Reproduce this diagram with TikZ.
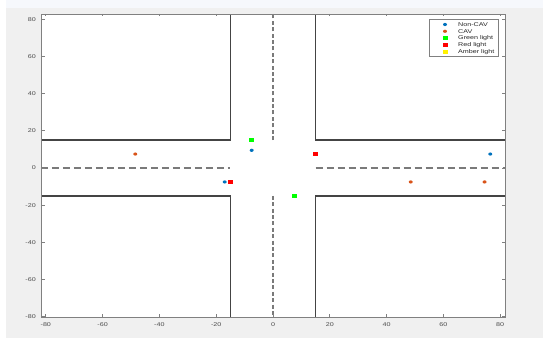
\documentclass[tikz,border=0pt]{standalone}
\usepackage{fontspec}
\usetikzlibrary{shapes.geometric}
\setmainfont{Liberation Sans}
\newfontfamily\axfont[FakeStretch=1.3]{Liberation Sans}
\definecolor{mblue}{HTML}{0072BD}
\definecolor{morange}{HTML}{D95319}
\definecolor{figgray}{HTML}{F0F0F0}
\definecolor{topstrip}{HTML}{F6F8FC}
\definecolor{axgray}{HTML}{808080}
\definecolor{roadc}{HTML}{444444}
\definecolor{dashc}{HTML}{7A7A7A}
\begin{document}
\begin{tikzpicture}[x=1pt,y=-1pt,
  road/.style={draw=roadc,line width=1.6pt},
  hdash/.style={draw=dashc,line width=1.2pt,dash pattern=on 7pt off 4pt},
  vdash/.style={draw=dashc,line width=1.5pt,dash pattern=on 4pt off 2.4pt},
  axisline/.style={draw=axgray,line width=0.8pt},
  ticklab/.style={font=\axfont\fontsize{5.5}{6.5}\selectfont,text=black!70,inner sep=0pt},
  leglab/.style={font=\axfont\fontsize{5.5}{6.5}\selectfont,text=black!85,inner sep=0pt,anchor=west},
  dotm/.style={ellipse,minimum width=4pt,minimum height=3.2pt,inner sep=0pt,draw=none},
  sqm/.style={rectangle,minimum width=5pt,minimum height=3.8pt,inner sep=0pt,draw=none}]
\useasboundingbox (0,0) rectangle (550,345);
\fill[white] (0,0) rectangle (550,345);
\fill[topstrip] (6,0) rectangle (543,8);
\fill[figgray] (6,8) rectangle (543,338);
\fill[white] (41,14) rectangle (506,317);
\begin{scope}[shift={(273,168)},x=2.84pt,y=1.86pt]
  % roads
  \draw[road] (-81.7,15) -- (-15,15) -- (-15,82.8);
  \draw[road] (81.9,15) -- (15,15) -- (15,82.8);
  \draw[road] (-81.7,-15) -- (-15,-15) -- (-15,-80.1);
  \draw[road] (81.9,-15) -- (15,-15) -- (15,-80.1);
  \draw[hdash] (-81.7,0) -- (-15,0);
  \draw[hdash] (15,0) -- (81.9,0);
  \draw[vdash] (0,15) -- (0,82.8);
  \draw[vdash] (0,-15) -- (0,-80.1);
  % axes box and ticks
  \draw[axisline] (-81.7,-80.1) rectangle (81.9,82.8);
  \foreach \t [count=\i] in {-80,-60,-40,-20,0,20,40,60,80}{
    \draw[axisline] (\t,-80.1) -- ++(0,2.5pt);
    \draw[axisline] (\t,82.8) -- ++(0,-2.5pt);
    \draw[axisline] (-81.7,\t) -- ++(4pt,0);
    \draw[axisline] (81.9,\t) -- ++(-4pt,0);
    \node[ticklab] (xl\i) at ([yshift=-7.5pt]\t,-80.1) {\t};
    \node[ticklab,anchor=east] (yl\i) at ([xshift=-5pt]-81.7,\t) {\t};
  }
  % vehicles and lights
  \node[dotm,fill=mblue] (nc1) at (-7.5,9.5) {};
  \node[dotm,fill=mblue] (nc2) at (-17,-7.5) {};
  \node[dotm,fill=mblue] (nc3) at (76.5,7.5) {};
  \node[dotm,fill=morange] (cav1) at (-48.5,7.5) {};
  \node[dotm,fill=morange] (cav2) at (48.5,-7.5) {};
  \node[dotm,fill=morange] (cav3) at (74.5,-7.5) {};
  \node[sqm,fill=green] (g1) at (-7.5,15) {};
  \node[sqm,fill=green] (g2) at (7.5,-15) {};
  \node[sqm,fill=red] (r1) at (15,7.5) {};
  \node[sqm,fill=red] (r2) at (-15,-7.5) {};
\end{scope}
% legend
\draw[draw=axgray,fill=white,line width=0.6pt] (429,19) rectangle (498,56);
\node[dotm,fill=mblue] (lm1) at (445,24.5) {};
\node[dotm,fill=morange] (lm2) at (445,31.3) {};
\node[sqm,fill=green] (lm3) at (445,38) {};
\node[sqm,fill=red] (lm4) at (445,45) {};
\node[sqm,fill=yellow] (lm5) at (445,52.2) {};
\node[leglab] (lt1) at (458,24.5) {Non-CAV};
\node[leglab] (lt2) at (458,31.3) {CAV};
\node[leglab] (lt3) at (458,38) {Green light};
\node[leglab] (lt4) at (458,45) {Red light};
\node[leglab] (lt5) at (458,52.2) {Amber light};
\end{tikzpicture}
\end{document}
